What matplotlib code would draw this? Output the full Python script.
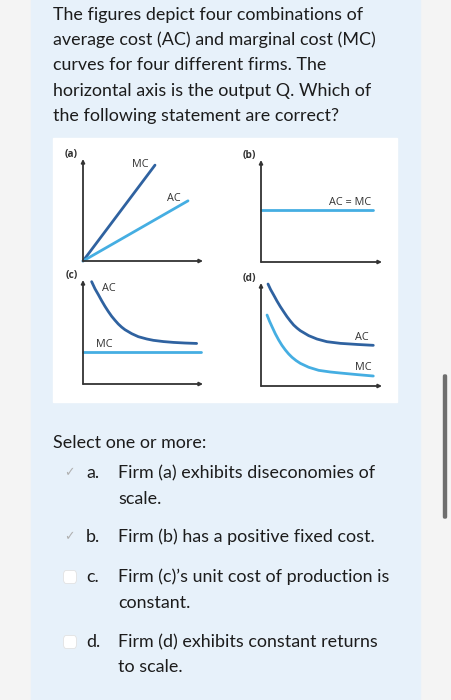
import matplotlib.pyplot as plt
from matplotlib.patches import Rectangle, FancyBboxPatch

W, H = 451, 700

# ---- data (Q on x, cost on y, both 0..10) ----
a_mc_q = [0, 6.0]
a_mc_c = [0, 9.4]
a_ac_q = [0, 8.75]
a_ac_c = [0, 5.9]

b_q = [0, 9.25]
b_c = [5.1, 5.1]

c_ac_q = [0.72, 1.0, 1.28, 1.55, 1.83, 2.11, 2.39, 2.67, 2.94, 3.22, 3.5, 4.06, 4.61,
          5.31, 5.86, 6.7, 7.53, 8.5, 9.47]
c_ac_c = [9.84, 9.15, 8.59, 8.02, 7.47, 6.97, 6.51, 6.12, 5.77, 5.47, 5.22, 4.84, 4.55,
          4.33, 4.2, 4.08, 4.0, 3.94, 3.9]
c_mc_q = [0, 9.8]
c_mc_c = [3.08, 3.08]

d_ac_q = [0.58, 0.8, 1.05, 1.32, 1.6, 1.88, 2.15, 2.43, 2.7, 2.98, 3.25, 3.94, 4.63,
          5.45, 6.56, 8.0, 9.28]
d_ac_c = [9.9, 9.35, 8.83, 8.25, 7.7, 7.2, 6.73, 6.3, 5.92, 5.62, 5.37, 4.89, 4.56,
          4.3, 4.14, 4.03, 3.95]
d_mc_q = [0.5, 0.7, 0.91, 1.18, 1.46, 1.73, 2.01, 2.28, 2.56, 2.9, 3.25, 3.94, 4.77,
          5.73, 6.56, 8.0, 9.28]
d_mc_c = [6.89, 6.3, 5.76, 5.08, 4.47, 3.95, 3.5, 3.12, 2.79, 2.47, 2.2, 1.82, 1.52,
          1.36, 1.26, 1.1, 0.97]

question = ["The figures depict four combinations of",
            "average cost (AC) and marginal cost (MC)",
            "curves for four different firms. The",
            "horizontal axis is the output Q. Which of",
            "the following statement are correct?"]

options = [("a.", ["Firm (a) exhibits diseconomies of", "scale."], True),
           ("b.", ["Firm (b) has a positive fixed cost."], True),
           ("c.", ["Firm (c)\u2019s unit cost of production is", "constant."], False),
           ("d.", ["Firm (d) exhibits constant returns", "to scale."], False)]

DARK = '#2f62a0'
LIGHT = '#45aee2'
AXC = '#333333'
TXT = '#1c1c1c'
FS = 12.9

plt.rcParams['font.family'] = ['Lato', 'DejaVu Sans']

fig = plt.figure(figsize=(W / 100, H / 100), dpi=100)
fig.patch.set_facecolor('#f4f4f4')


def fx(x):
    return x / W


def fy(y):
    return 1 - y / H


# page panels
fig.patches.append(Rectangle((fx(31), 0), fx(420) - fx(31), 1,
                             transform=fig.transFigure, color='#e7f1fa', zorder=0))
fig.patches.append(Rectangle((fx(53), fy(402)), fx(397) - fx(53), fy(138) - fy(402),
                             transform=fig.transFigure, color='white', zorder=1))
# scrollbar
fig.patches.append(FancyBboxPatch((fx(443.5), fy(518)), fx(3), fy(375) - fy(518),
                                  boxstyle='round,pad=0,rounding_size=0.002',
                                  transform=fig.transFigure, color='#6e6e6e', zorder=2))

# question text
for i, line in enumerate(question):
    fig.text(fx(53), fy(15 + 25.2 * i), line, fontsize=FS, color=TXT,
             va='center', ha='left')


def panel(ox, oy, right, top, label):
    ax = fig.add_axes([fx(ox), fy(oy), fx(right) - fx(ox), fy(top) - fy(oy)])
    ax.set_zorder(5)
    ax.set_xlim(0, 10)
    ax.set_ylim(0, 10)
    ax.axis('off')
    ax.patch.set_alpha(0)
    arr = dict(arrowstyle='-|>', mutation_scale=5, lw=1.3, color=AXC,
               shrinkA=0, shrinkB=0)
    ax.annotate('', xy=(10, 0), xytext=(0, 0), arrowprops=arr, annotation_clip=False)
    ax.annotate('', xy=(0, 10), xytext=(0, 0), arrowprops=arr, annotation_clip=False)
    ax.text(-0.95, 10.4, label, fontsize=7.3, color=AXC, ha='center', va='center',
            family=['Open Sans', 'DejaVu Sans'], fontweight='bold')
    return ax


lab = dict(fontsize=7.8, color=AXC, ha='center', va='center',
           family=['Open Sans', 'DejaVu Sans'])
line_kw = dict(lw=2, clip_on=False, solid_capstyle='round', solid_joinstyle='round')

ax = panel(83, 261, 203, 159, '(a)')
ax.plot(a_mc_q, a_mc_c, color=DARK, **line_kw)
ax.plot(a_ac_q, a_ac_c, color=LIGHT, **line_kw)
ax.text(4.75, 9.45, 'MC', **lab)
ax.text(7.6, 6.15, 'AC', **lab)

ax = panel(261, 262, 382, 160, '(b)')
ax.plot(b_q, b_c, color=LIGHT, **line_kw)
ax.text(7.4, 5.85, 'AC = MC', **lab)

ax = panel(83, 384, 203, 280, '(c)')
ax.plot(c_ac_q, c_ac_c, color=DARK, **line_kw)
ax.plot(c_mc_q, c_mc_c, color=LIGHT, **line_kw)
ax.text(2.15, 9.2, 'AC', **lab)
ax.text(1.75, 3.8, 'MC', **lab)

ax = panel(261, 386, 382, 283, '(d)')
ax.plot(d_ac_q, d_ac_c, color=DARK, **line_kw)
ax.plot(d_mc_q, d_mc_c, color=LIGHT, **line_kw)
ax.text(8.35, 4.7, 'AC', **lab)
ax.text(8.45, 1.75, 'MC', **lab)

# answer section
fig.text(fx(53), fy(443), 'Select one or more:', fontsize=FS, color=TXT,
         va='center', ha='left')
ys = [473, 537, 577, 642]
for (letter, lines, checked), y in zip(options, ys):
    if checked:
        fig.text(fx(69), fy(y), '\u2713', fontsize=9, color='#b0b0b0',
                 ha='center', va='center', family=['DejaVu Sans'])
    else:
        fig.patches.append(FancyBboxPatch((fx(63.5), fy(y + 6.5)), fx(13), fy(0) - fy(13),
                                          boxstyle='round,pad=0,rounding_size=0.006',
                                          transform=fig.transFigure, facecolor='white',
                                          edgecolor='#e2e2e2', lw=0.6, zorder=3))
    fig.text(fx(86), fy(y), letter, fontsize=FS, color=TXT, va='center', ha='left')
    for j, line in enumerate(lines):
        fig.text(fx(118), fy(y + 25.5 * j), line, fontsize=FS, color=TXT,
                 va='center', ha='left')

fig.savefig('out.png', dpi=100, facecolor=fig.get_facecolor())
